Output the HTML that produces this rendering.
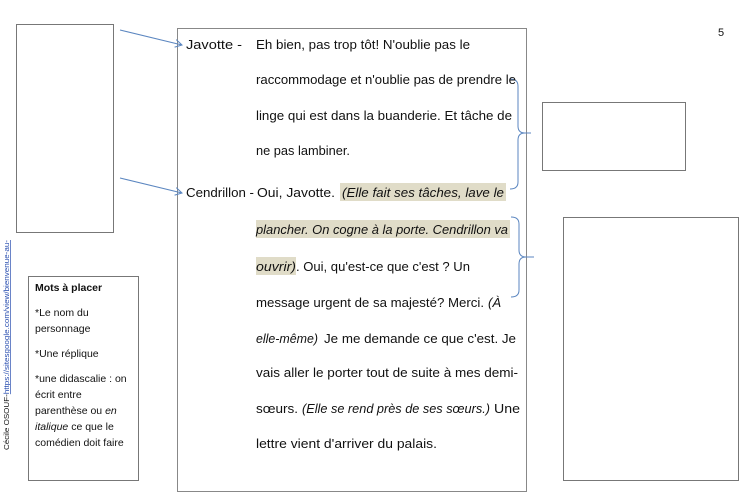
<!DOCTYPE html>
<html><head><meta charset="utf-8"><style>
html,body{margin:0;padding:0;background:#fff;width:750px;height:504px;overflow:hidden}
svg{display:block}
text{font-family:"Liberation Sans",sans-serif;fill:#111}
</style></head><body>
<svg width="750" height="504" viewBox="0 0 750 504" xmlns="http://www.w3.org/2000/svg">
<defs><marker id="a" markerWidth="8" markerHeight="8" refX="7" refY="4" orient="auto" markerUnits="userSpaceOnUse"><path d="M0,0 L7,4 L0,8" fill="none" stroke="#5b86c0" stroke-width="1"/></marker></defs>
<rect x="16.5" y="24.5" width="97" height="208" fill="#fff" stroke="#777"/>
<rect x="28.5" y="276.5" width="110" height="204" fill="#fff" stroke="#777"/>
<rect x="177.5" y="28.5" width="349" height="463" fill="#fff" stroke="#888"/>
<rect x="542.5" y="102.5" width="143" height="68" fill="#fff" stroke="#777"/>
<rect x="563.5" y="217.5" width="175" height="263" fill="#fff" stroke="#777"/>
<line x1="120" y1="30" x2="182" y2="45" stroke="#5b86c0" marker-end="url(#a)"/>
<line x1="120" y1="178" x2="182" y2="193" stroke="#5b86c0" marker-end="url(#a)"/>
<path d="M510,79 Q518,79 518,86 L518,126 Q518,133 525,133 L531,133 M525,133 Q518,133 518,140 L518,182 Q518,189 510,189" fill="none" stroke="#5b86c0"/>
<path d="M511,217 Q519,217 519,224 L519,250 Q519,257 526,257 L534,257 M526,257 Q519,257 519,264 L519,290 Q519,297 511,297" fill="none" stroke="#5b86c0"/>
<text x="718" y="36" font-size="11">5</text>
<rect x="340" y="183" width="166" height="18" fill="#e0dcc8"/>
<rect x="256" y="220" width="254" height="18" fill="#e0dcc8"/>
<rect x="256" y="257" width="40" height="18" fill="#e0dcc8"/>
<g font-size="13">
<text lengthAdjust="spacingAndGlyphs" x="186" y="49" textLength="56">Javotte -</text>
<text lengthAdjust="spacingAndGlyphs" x="256" y="49" textLength="214">Eh bien, pas trop tôt! N'oublie pas le</text>
<text lengthAdjust="spacingAndGlyphs" x="256" y="84" textLength="260">raccommodage et n'oublie pas de prendre le</text>
<text lengthAdjust="spacingAndGlyphs" x="256" y="120" textLength="256">linge qui est dans la buanderie. Et tâche de</text>
<text lengthAdjust="spacingAndGlyphs" x="256" y="155" textLength="94">ne pas lambiner.</text>
<text lengthAdjust="spacingAndGlyphs" x="186" y="197" textLength="68">Cendrillon -</text>
<text lengthAdjust="spacingAndGlyphs" x="257" y="197" textLength="78">Oui, Javotte.</text>
<text lengthAdjust="spacingAndGlyphs" x="342" y="197" textLength="162" font-style="italic">(Elle fait ses tâches, lave le</text>
<text lengthAdjust="spacingAndGlyphs" x="256" y="234" textLength="252" font-style="italic">plancher. On cogne à la porte. Cendrillon va</text>
<text lengthAdjust="spacingAndGlyphs" x="256" y="271" textLength="40" font-style="italic">ouvrir)</text>
<text lengthAdjust="spacingAndGlyphs" x="296" y="271" textLength="174">. Oui, qu'est-ce que c'est ? Un</text>
<text lengthAdjust="spacingAndGlyphs" x="256" y="307" textLength="228">message urgent de sa majesté? Merci.</text>
<text x="488" y="307" font-style="italic">(À</text>
<text lengthAdjust="spacingAndGlyphs" x="256" y="343" textLength="62" font-style="italic">elle-même)</text>
<text lengthAdjust="spacingAndGlyphs" x="324" y="343" textLength="192">Je me demande ce que c'est. Je</text>
<text lengthAdjust="spacingAndGlyphs" x="256" y="377" textLength="262">vais aller le porter tout de suite à mes demi-</text>
<text lengthAdjust="spacingAndGlyphs" x="256" y="413" textLength="42">sœurs.</text>
<text lengthAdjust="spacingAndGlyphs" x="302" y="413" textLength="188" font-style="italic">(Elle se rend près de ses sœurs.)</text>
<text lengthAdjust="spacingAndGlyphs" x="494" y="413" textLength="26">Une</text>
<text lengthAdjust="spacingAndGlyphs" x="256" y="448" textLength="181">lettre vient d'arriver du palais.</text>
</g>
<g font-size="10.5">
<text x="35" y="291" font-weight="bold">Mots à placer</text>
<text x="35" y="316">*Le nom du</text>
<text x="35" y="332">personnage</text>
<text x="35" y="357">*Une réplique</text>
<text x="35" y="382">*une didascalie : on</text>
<text x="35" y="398">écrit entre</text>
<text x="35" y="414">parenthèse ou <tspan font-style="italic">en</tspan></text>
<text x="35" y="430"><tspan font-style="italic">italique</tspan> ce que le</text>
<text x="35" y="446">comédien doit faire</text>
</g>
<text transform="translate(9,450) rotate(-90)" font-size="7" lengthAdjust="spacingAndGlyphs" textLength="210">Cécile OSOUF-<tspan fill="#2a4fb0" text-decoration="underline">https://sitesgoogle.com/view/bienvenue-au-</tspan></text>
</svg>
</body></html>
